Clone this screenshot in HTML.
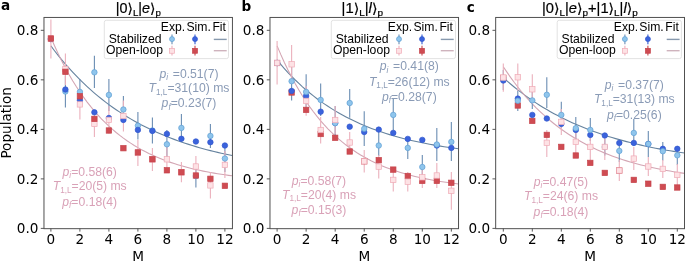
<!DOCTYPE html>
<html><head><meta charset="utf-8"><title>Population vs M</title>
<style>html,body{margin:0;padding:0;background:#fff;} body{width:685px;height:261px;overflow:hidden;} svg{display:block;}</style>
</head><body>
<svg width="685" height="261" viewBox="0 0 685 261" font-family="DejaVu Sans, Liberation Sans, sans-serif"><clipPath id="clipa"><rect x="43.97" y="17.3" width="188.47" height="211.1"/></clipPath>
<line x1="40.77" y1="228.40" x2="43.97" y2="228.40" stroke="#5a5a5a" stroke-width="1.0"/>
<text x="38.37" y="233.30" text-anchor="end" font-size="13.6" fill="#000">0.0</text>
<line x1="40.77" y1="178.88" x2="43.97" y2="178.88" stroke="#5a5a5a" stroke-width="1.0"/>
<text x="38.37" y="183.78" text-anchor="end" font-size="13.6" fill="#000">0.2</text>
<line x1="40.77" y1="129.36" x2="43.97" y2="129.36" stroke="#5a5a5a" stroke-width="1.0"/>
<text x="38.37" y="134.26" text-anchor="end" font-size="13.6" fill="#000">0.4</text>
<line x1="40.77" y1="79.84" x2="43.97" y2="79.84" stroke="#5a5a5a" stroke-width="1.0"/>
<text x="38.37" y="84.74" text-anchor="end" font-size="13.6" fill="#000">0.6</text>
<line x1="40.77" y1="30.32" x2="43.97" y2="30.32" stroke="#5a5a5a" stroke-width="1.0"/>
<text x="38.37" y="35.22" text-anchor="end" font-size="13.6" fill="#000">0.8</text>
<line x1="50.90" y1="228.40" x2="50.90" y2="231.60" stroke="#5a5a5a" stroke-width="1.0"/>
<text x="50.90" y="244.3" text-anchor="middle" font-size="13.6" fill="#000">0</text>
<line x1="79.90" y1="228.40" x2="79.90" y2="231.60" stroke="#5a5a5a" stroke-width="1.0"/>
<text x="79.90" y="244.3" text-anchor="middle" font-size="13.6" fill="#000">2</text>
<line x1="108.90" y1="228.40" x2="108.90" y2="231.60" stroke="#5a5a5a" stroke-width="1.0"/>
<text x="108.90" y="244.3" text-anchor="middle" font-size="13.6" fill="#000">4</text>
<line x1="137.90" y1="228.40" x2="137.90" y2="231.60" stroke="#5a5a5a" stroke-width="1.0"/>
<text x="137.90" y="244.3" text-anchor="middle" font-size="13.6" fill="#000">6</text>
<line x1="166.90" y1="228.40" x2="166.90" y2="231.60" stroke="#5a5a5a" stroke-width="1.0"/>
<text x="166.90" y="244.3" text-anchor="middle" font-size="13.6" fill="#000">8</text>
<line x1="195.90" y1="228.40" x2="195.90" y2="231.60" stroke="#5a5a5a" stroke-width="1.0"/>
<text x="195.90" y="244.3" text-anchor="middle" font-size="13.6" fill="#000">10</text>
<line x1="224.90" y1="228.40" x2="224.90" y2="231.60" stroke="#5a5a5a" stroke-width="1.0"/>
<text x="224.90" y="244.3" text-anchor="middle" font-size="13.6" fill="#000">12</text>
<text x="138.20" y="260.8" text-anchor="middle" font-size="13.6" fill="#000">M</text>
<text x="1.0" y="9.8" font-size="13.6" font-weight="bold" fill="#000">a</text>
<g clip-path="url(#clipa)">
<polyline points="50.90,45.92 54.52,50.72 58.15,55.34 61.77,59.78 65.40,64.06 69.03,68.19 72.65,72.16 76.28,75.98 79.90,79.66 83.53,83.20 87.15,86.61 90.78,89.90 94.40,93.06 98.03,96.11 101.65,99.04 105.28,101.86 108.90,104.58 112.53,107.20 116.15,109.72 119.78,112.14 123.40,114.48 127.03,116.73 130.65,118.89 134.28,120.98 137.90,122.99 141.53,124.92 145.15,126.78 148.78,128.57 152.40,130.30 156.03,131.96 159.65,133.56 163.28,135.10 166.90,136.58 170.53,138.01 174.15,139.38 177.78,140.71 181.40,141.98 185.03,143.21 188.65,144.39 192.28,145.53 195.90,146.62 199.53,147.68 203.15,148.69 206.78,149.67 210.40,150.61 214.03,151.52 217.65,152.39 221.28,153.23 224.90,154.04 228.53,154.82 232.15,155.57 235.78,156.29 239.40,156.98" fill="none" stroke="#66839f" stroke-width="1.1"/>
<polyline points="50.90,37.57 54.52,45.84 58.15,53.64 61.77,61.00 65.40,67.94 69.03,74.49 72.65,80.67 76.28,86.50 79.90,92.00 83.53,97.19 87.15,102.08 90.78,106.70 94.40,111.06 98.03,115.17 101.65,119.05 105.28,122.71 108.90,126.16 112.53,129.42 116.15,132.50 119.78,135.40 123.40,138.13 127.03,140.71 130.65,143.15 134.28,145.44 137.90,147.61 141.53,149.66 145.15,151.59 148.78,153.41 152.40,155.12 156.03,156.74 159.65,158.27 163.28,159.72 166.90,161.08 170.53,162.36 174.15,163.57 177.78,164.71 181.40,165.79 185.03,166.81 188.65,167.77 192.28,168.67 195.90,169.53 199.53,170.33 203.15,171.09 206.78,171.81 210.40,172.49 214.03,173.13 217.65,173.73 221.28,174.30 224.90,174.83 228.53,175.34 232.15,175.82 235.78,176.27 239.40,176.69" fill="none" stroke="#d3a5b3" stroke-width="1.1"/>
<line x1="50.90" y1="37.00" x2="50.90" y2="41.00" stroke="#6a8db3" stroke-width="1.1"/>
<line x1="65.40" y1="75.50" x2="65.40" y2="107.40" stroke="#6a8db3" stroke-width="1.1"/>
<line x1="79.90" y1="78.90" x2="79.90" y2="105.00" stroke="#6a8db3" stroke-width="1.1"/>
<line x1="94.40" y1="55.80" x2="94.40" y2="88.00" stroke="#6a8db3" stroke-width="1.1"/>
<line x1="108.90" y1="78.90" x2="108.90" y2="111.00" stroke="#6a8db3" stroke-width="1.1"/>
<line x1="123.40" y1="95.90" x2="123.40" y2="123.00" stroke="#6a8db3" stroke-width="1.1"/>
<line x1="137.90" y1="112.00" x2="137.90" y2="139.50" stroke="#6a8db3" stroke-width="1.1"/>
<line x1="152.40" y1="117.50" x2="152.40" y2="143.50" stroke="#6a8db3" stroke-width="1.1"/>
<line x1="166.90" y1="130.00" x2="166.90" y2="158.50" stroke="#6a8db3" stroke-width="1.1"/>
<line x1="181.40" y1="113.90" x2="181.40" y2="142.00" stroke="#6a8db3" stroke-width="1.1"/>
<line x1="195.90" y1="165.00" x2="195.90" y2="187.40" stroke="#6a8db3" stroke-width="1.1"/>
<line x1="210.40" y1="123.90" x2="210.40" y2="148.00" stroke="#6a8db3" stroke-width="1.1"/>
<line x1="224.90" y1="145.00" x2="224.90" y2="172.00" stroke="#6a8db3" stroke-width="1.1"/>
<line x1="50.90" y1="19.40" x2="50.90" y2="58.40" stroke="#ebb0bc" stroke-width="1.1"/>
<line x1="65.40" y1="53.50" x2="65.40" y2="85.00" stroke="#ebb0bc" stroke-width="1.1"/>
<line x1="79.90" y1="90.00" x2="79.90" y2="119.50" stroke="#ebb0bc" stroke-width="1.1"/>
<line x1="94.40" y1="110.00" x2="94.40" y2="137.00" stroke="#ebb0bc" stroke-width="1.1"/>
<line x1="108.90" y1="106.00" x2="108.90" y2="133.50" stroke="#ebb0bc" stroke-width="1.1"/>
<line x1="123.40" y1="100.50" x2="123.40" y2="131.50" stroke="#ebb0bc" stroke-width="1.1"/>
<line x1="137.90" y1="140.00" x2="137.90" y2="166.00" stroke="#ebb0bc" stroke-width="1.1"/>
<line x1="152.40" y1="148.00" x2="152.40" y2="171.00" stroke="#ebb0bc" stroke-width="1.1"/>
<line x1="166.90" y1="146.00" x2="166.90" y2="172.50" stroke="#ebb0bc" stroke-width="1.1"/>
<line x1="181.40" y1="162.00" x2="181.40" y2="182.20" stroke="#ebb0bc" stroke-width="1.1"/>
<line x1="195.90" y1="156.00" x2="195.90" y2="177.00" stroke="#ebb0bc" stroke-width="1.1"/>
<line x1="210.40" y1="172.00" x2="210.40" y2="198.50" stroke="#ebb0bc" stroke-width="1.1"/>
<line x1="224.90" y1="151.00" x2="224.90" y2="178.00" stroke="#ebb0bc" stroke-width="1.1"/>
<circle cx="50.90" cy="39.00" r="2.75" fill="#8fc5ec" stroke="#5f9fd4" stroke-width="0.7"/>
<circle cx="65.40" cy="91.50" r="2.75" fill="#8fc5ec" stroke="#5f9fd4" stroke-width="0.7"/>
<circle cx="79.90" cy="91.90" r="2.75" fill="#8fc5ec" stroke="#5f9fd4" stroke-width="0.7"/>
<circle cx="94.40" cy="72.30" r="2.75" fill="#8fc5ec" stroke="#5f9fd4" stroke-width="0.7"/>
<circle cx="108.90" cy="94.90" r="2.75" fill="#8fc5ec" stroke="#5f9fd4" stroke-width="0.7"/>
<circle cx="123.40" cy="109.50" r="2.75" fill="#8fc5ec" stroke="#5f9fd4" stroke-width="0.7"/>
<circle cx="137.90" cy="125.70" r="2.75" fill="#8fc5ec" stroke="#5f9fd4" stroke-width="0.7"/>
<circle cx="152.40" cy="130.50" r="2.75" fill="#8fc5ec" stroke="#5f9fd4" stroke-width="0.7"/>
<circle cx="166.90" cy="144.30" r="2.75" fill="#8fc5ec" stroke="#5f9fd4" stroke-width="0.7"/>
<circle cx="181.40" cy="127.90" r="2.75" fill="#8fc5ec" stroke="#5f9fd4" stroke-width="0.7"/>
<circle cx="195.90" cy="176.00" r="2.75" fill="#8fc5ec" stroke="#5f9fd4" stroke-width="0.7"/>
<circle cx="210.40" cy="135.90" r="2.75" fill="#8fc5ec" stroke="#5f9fd4" stroke-width="0.7"/>
<circle cx="224.90" cy="158.50" r="2.75" fill="#8fc5ec" stroke="#5f9fd4" stroke-width="0.7"/>
<circle cx="50.90" cy="39.00" r="2.75" fill="#3b63dc" stroke="#3158cf" stroke-width="0.7"/>
<circle cx="65.40" cy="89.50" r="2.75" fill="#3b63dc" stroke="#3158cf" stroke-width="0.7"/>
<circle cx="79.90" cy="100.30" r="2.75" fill="#3b63dc" stroke="#3158cf" stroke-width="0.7"/>
<circle cx="94.40" cy="112.30" r="2.75" fill="#3b63dc" stroke="#3158cf" stroke-width="0.7"/>
<circle cx="108.90" cy="118.00" r="2.75" fill="#3b63dc" stroke="#3158cf" stroke-width="0.7"/>
<circle cx="123.40" cy="119.90" r="2.75" fill="#3b63dc" stroke="#3158cf" stroke-width="0.7"/>
<circle cx="137.90" cy="129.90" r="2.75" fill="#3b63dc" stroke="#3158cf" stroke-width="0.7"/>
<circle cx="152.40" cy="130.90" r="2.75" fill="#3b63dc" stroke="#3158cf" stroke-width="0.7"/>
<circle cx="166.90" cy="133.90" r="2.75" fill="#3b63dc" stroke="#3158cf" stroke-width="0.7"/>
<circle cx="181.40" cy="138.80" r="2.75" fill="#3b63dc" stroke="#3158cf" stroke-width="0.7"/>
<circle cx="195.90" cy="141.50" r="2.75" fill="#3b63dc" stroke="#3158cf" stroke-width="0.7"/>
<circle cx="210.40" cy="142.20" r="2.75" fill="#3b63dc" stroke="#3158cf" stroke-width="0.7"/>
<circle cx="224.90" cy="145.50" r="2.75" fill="#3b63dc" stroke="#3158cf" stroke-width="0.7"/>
<rect x="48.20" y="35.80" width="5.4" height="5.4" fill="#fde2e5" stroke="#efaab6" stroke-width="0.7"/>
<rect x="62.70" y="66.30" width="5.4" height="5.4" fill="#fde2e5" stroke="#efaab6" stroke-width="0.7"/>
<rect x="77.20" y="101.70" width="5.4" height="5.4" fill="#fde2e5" stroke="#efaab6" stroke-width="0.7"/>
<rect x="91.70" y="121.20" width="5.4" height="5.4" fill="#fde2e5" stroke="#efaab6" stroke-width="0.7"/>
<rect x="106.20" y="117.20" width="5.4" height="5.4" fill="#fde2e5" stroke="#efaab6" stroke-width="0.7"/>
<rect x="120.70" y="113.30" width="5.4" height="5.4" fill="#fde2e5" stroke="#efaab6" stroke-width="0.7"/>
<rect x="135.20" y="150.30" width="5.4" height="5.4" fill="#fde2e5" stroke="#efaab6" stroke-width="0.7"/>
<rect x="149.70" y="156.60" width="5.4" height="5.4" fill="#fde2e5" stroke="#efaab6" stroke-width="0.7"/>
<rect x="164.20" y="156.60" width="5.4" height="5.4" fill="#fde2e5" stroke="#efaab6" stroke-width="0.7"/>
<rect x="178.70" y="169.50" width="5.4" height="5.4" fill="#fde2e5" stroke="#efaab6" stroke-width="0.7"/>
<rect x="193.20" y="163.80" width="5.4" height="5.4" fill="#fde2e5" stroke="#efaab6" stroke-width="0.7"/>
<rect x="207.70" y="182.70" width="5.4" height="5.4" fill="#fde2e5" stroke="#efaab6" stroke-width="0.7"/>
<rect x="222.20" y="162.20" width="5.4" height="5.4" fill="#fde2e5" stroke="#efaab6" stroke-width="0.7"/>
<rect x="48.20" y="35.80" width="5.4" height="5.4" fill="#cf4b52" stroke="#c5444b" stroke-width="0.7"/>
<rect x="62.70" y="69.10" width="5.4" height="5.4" fill="#cf4b52" stroke="#c5444b" stroke-width="0.7"/>
<rect x="77.20" y="93.60" width="5.4" height="5.4" fill="#cf4b52" stroke="#c5444b" stroke-width="0.7"/>
<rect x="91.70" y="116.20" width="5.4" height="5.4" fill="#cf4b52" stroke="#c5444b" stroke-width="0.7"/>
<rect x="106.20" y="127.80" width="5.4" height="5.4" fill="#cf4b52" stroke="#c5444b" stroke-width="0.7"/>
<rect x="120.70" y="145.50" width="5.4" height="5.4" fill="#cf4b52" stroke="#c5444b" stroke-width="0.7"/>
<rect x="135.20" y="149.70" width="5.4" height="5.4" fill="#cf4b52" stroke="#c5444b" stroke-width="0.7"/>
<rect x="149.70" y="156.60" width="5.4" height="5.4" fill="#cf4b52" stroke="#c5444b" stroke-width="0.7"/>
<rect x="164.20" y="167.60" width="5.4" height="5.4" fill="#cf4b52" stroke="#c5444b" stroke-width="0.7"/>
<rect x="178.70" y="169.60" width="5.4" height="5.4" fill="#cf4b52" stroke="#c5444b" stroke-width="0.7"/>
<rect x="193.20" y="172.80" width="5.4" height="5.4" fill="#cf4b52" stroke="#c5444b" stroke-width="0.7"/>
<rect x="207.70" y="176.10" width="5.4" height="5.4" fill="#cf4b52" stroke="#c5444b" stroke-width="0.7"/>
<rect x="222.20" y="183.10" width="5.4" height="5.4" fill="#cf4b52" stroke="#c5444b" stroke-width="0.7"/>
</g>
<rect x="43.97" y="17.45" width="188.47" height="211.22" fill="none" stroke="#505050" stroke-width="1.0"/>
<rect x="104.30" y="20.3" width="124.2" height="38.3" rx="2" fill="#fff" fill-opacity="0.8" stroke="#dadada" stroke-width="0.8"/>
<text x="173.05" y="31.1" text-anchor="middle" font-size="12.2" font-family="Liberation Sans" fill="#000">Exp.</text>
<text x="198.65" y="31.1" text-anchor="middle" font-size="12.2" font-family="Liberation Sans" fill="#000">Sim.</text>
<text x="219.15" y="31.1" text-anchor="middle" font-size="12.2" font-family="Liberation Sans" fill="#000">Fit</text>
<text x="135.10" y="42.7" text-anchor="middle" font-size="12.2" font-family="Liberation Sans" fill="#000">Stabilized</text>
<text x="134.50" y="54.4" text-anchor="middle" font-size="12.2" font-family="Liberation Sans" fill="#000">Open-loop</text>
<line x1="172.00" y1="34.40" x2="172.00" y2="44.30" stroke="#6a8db3" stroke-width="1.1"/>
<circle cx="172.00" cy="39.10" r="2.5" fill="#8fc5ec" stroke="#5f9fd4" stroke-width="0.7"/>
<line x1="195.00" y1="34.40" x2="195.00" y2="44.30" stroke="#3158cf" stroke-width="1.1"/>
<circle cx="195.00" cy="39.10" r="2.5" fill="#3b63dc" stroke="#3158cf" stroke-width="0.7"/>
<line x1="213.80" y1="39.4" x2="226.70" y2="39.4" stroke="#8799ae" stroke-width="1.4"/>
<line x1="172.00" y1="45.80" x2="172.00" y2="55.60" stroke="#ebb0bc" stroke-width="1.1"/>
<rect x="169.55" y="48.35" width="4.9" height="4.9" fill="#fde2e5" stroke="#efaab6" stroke-width="0.7"/>
<line x1="195.00" y1="45.80" x2="195.00" y2="55.60" stroke="#c5444b" stroke-width="1.1"/>
<rect x="192.55" y="48.35" width="4.9" height="4.9" fill="#cf4b52" stroke="#c5444b" stroke-width="0.7"/>
<line x1="213.80" y1="50.7" x2="226.70" y2="50.7" stroke="#cfb3bd" stroke-width="1.4"/>
<text x="189.00" y="77.50" text-anchor="middle" fill="#8a9bb6" font-size="12.2" font-family="Liberation Sans"><tspan font-style="italic">p</tspan><tspan font-style="italic" font-size="8.2" dy="2.3">i</tspan><tspan dy="-2.3" dx="1.3"> =0.51(7)</tspan></text>
<text x="89.70" y="175.60" text-anchor="middle" fill="#d9a1b7" font-size="12.2" font-family="Liberation Sans"><tspan font-style="italic">p</tspan><tspan font-style="italic" font-size="8.2" dy="2.3">i</tspan><tspan dy="-2.3">=0.58(6)</tspan></text>
<text x="189.00" y="92.20" text-anchor="middle" fill="#8a9bb6" font-size="12.2" font-family="Liberation Sans"><tspan font-style="italic">T</tspan><tspan font-size="8.2" dy="2.3">1,L</tspan><tspan dy="-2.3">=31(10) ms</tspan></text>
<text x="89.70" y="190.30" text-anchor="middle" fill="#d9a1b7" font-size="12.2" font-family="Liberation Sans"><tspan font-style="italic">T</tspan><tspan font-size="8.2" dy="2.3">1,L</tspan><tspan dy="-2.3">=20(5) ms</tspan></text>
<text x="189.00" y="107.40" text-anchor="middle" fill="#8a9bb6" font-size="12.2" font-family="Liberation Sans"><tspan font-style="italic">p</tspan><tspan font-style="italic" font-size="8.2" dy="2.3">f</tspan><tspan dy="-2.3">=0.23(7)</tspan></text>
<text x="89.70" y="205.50" text-anchor="middle" fill="#d9a1b7" font-size="12.2" font-family="Liberation Sans"><tspan font-style="italic">p</tspan><tspan font-style="italic" font-size="8.2" dy="2.3">f</tspan><tspan dy="-2.3">=0.18(4)</tspan></text>
<clipPath id="clipb"><rect x="269.98" y="17.3" width="188.54999999999995" height="211.1"/></clipPath>
<line x1="266.78" y1="228.40" x2="269.98" y2="228.40" stroke="#5a5a5a" stroke-width="1.0"/>
<text x="264.38" y="233.30" text-anchor="end" font-size="13.6" fill="#000">0.0</text>
<line x1="266.78" y1="178.88" x2="269.98" y2="178.88" stroke="#5a5a5a" stroke-width="1.0"/>
<text x="264.38" y="183.78" text-anchor="end" font-size="13.6" fill="#000">0.2</text>
<line x1="266.78" y1="129.36" x2="269.98" y2="129.36" stroke="#5a5a5a" stroke-width="1.0"/>
<text x="264.38" y="134.26" text-anchor="end" font-size="13.6" fill="#000">0.4</text>
<line x1="266.78" y1="79.84" x2="269.98" y2="79.84" stroke="#5a5a5a" stroke-width="1.0"/>
<text x="264.38" y="84.74" text-anchor="end" font-size="13.6" fill="#000">0.6</text>
<line x1="266.78" y1="30.32" x2="269.98" y2="30.32" stroke="#5a5a5a" stroke-width="1.0"/>
<text x="264.38" y="35.22" text-anchor="end" font-size="13.6" fill="#000">0.8</text>
<line x1="277.10" y1="228.40" x2="277.10" y2="231.60" stroke="#5a5a5a" stroke-width="1.0"/>
<text x="277.10" y="244.3" text-anchor="middle" font-size="13.6" fill="#000">0</text>
<line x1="306.14" y1="228.40" x2="306.14" y2="231.60" stroke="#5a5a5a" stroke-width="1.0"/>
<text x="306.14" y="244.3" text-anchor="middle" font-size="13.6" fill="#000">2</text>
<line x1="335.18" y1="228.40" x2="335.18" y2="231.60" stroke="#5a5a5a" stroke-width="1.0"/>
<text x="335.18" y="244.3" text-anchor="middle" font-size="13.6" fill="#000">4</text>
<line x1="364.22" y1="228.40" x2="364.22" y2="231.60" stroke="#5a5a5a" stroke-width="1.0"/>
<text x="364.22" y="244.3" text-anchor="middle" font-size="13.6" fill="#000">6</text>
<line x1="393.26" y1="228.40" x2="393.26" y2="231.60" stroke="#5a5a5a" stroke-width="1.0"/>
<text x="393.26" y="244.3" text-anchor="middle" font-size="13.6" fill="#000">8</text>
<line x1="422.30" y1="228.40" x2="422.30" y2="231.60" stroke="#5a5a5a" stroke-width="1.0"/>
<text x="422.30" y="244.3" text-anchor="middle" font-size="13.6" fill="#000">10</text>
<line x1="451.34" y1="228.40" x2="451.34" y2="231.60" stroke="#5a5a5a" stroke-width="1.0"/>
<text x="451.34" y="244.3" text-anchor="middle" font-size="13.6" fill="#000">12</text>
<text x="364.25" y="260.8" text-anchor="middle" font-size="13.6" fill="#000">M</text>
<text x="241.6" y="10.9" font-size="13.6" font-weight="bold" fill="#000">b</text>
<g clip-path="url(#clipb)">
<polyline points="277.10,60.06 280.73,64.41 284.36,68.57 287.99,72.55 291.62,76.35 295.25,79.99 298.88,83.47 302.51,86.80 306.14,89.98 309.77,93.02 313.40,95.92 317.03,98.70 320.66,101.36 324.29,103.90 327.92,106.33 331.55,108.66 335.18,110.88 338.81,113.00 342.44,115.04 346.07,116.98 349.70,118.84 353.33,120.61 356.96,122.31 360.59,123.93 364.22,125.48 367.85,126.97 371.48,128.39 375.11,129.75 378.74,131.04 382.37,132.28 386.00,133.47 389.63,134.60 393.26,135.69 396.89,136.73 400.52,137.72 404.15,138.66 407.78,139.57 411.41,140.44 415.04,141.27 418.67,142.06 422.30,142.82 425.93,143.54 429.56,144.23 433.19,144.90 436.82,145.53 440.45,146.14 444.08,146.71 447.71,147.27 451.34,147.80 454.97,148.30 458.60,148.79 462.23,149.25 465.86,149.69" fill="none" stroke="#66839f" stroke-width="1.1"/>
<polyline points="277.10,45.87 280.73,54.40 284.36,62.42 287.99,69.97 291.62,77.08 295.25,83.78 298.88,90.08 302.51,96.00 306.14,101.59 309.77,106.84 313.40,111.78 317.03,116.44 320.66,120.82 324.29,124.94 327.92,128.82 331.55,132.47 335.18,135.91 338.81,139.15 342.44,142.19 346.07,145.06 349.70,147.76 353.33,150.30 356.96,152.69 360.59,154.94 364.22,157.06 367.85,159.05 371.48,160.93 375.11,162.69 378.74,164.35 382.37,165.92 386.00,167.39 389.63,168.78 393.26,170.08 396.89,171.31 400.52,172.47 404.15,173.56 407.78,174.58 411.41,175.54 415.04,176.45 418.67,177.31 422.30,178.11 425.93,178.87 429.56,179.58 433.19,180.25 436.82,180.88 440.45,181.47 444.08,182.03 447.71,182.56 451.34,183.05 454.97,183.52 458.60,183.96 462.23,184.37 465.86,184.76" fill="none" stroke="#d3a5b3" stroke-width="1.1"/>
<line x1="277.10" y1="62.00" x2="277.10" y2="64.00" stroke="#6a8db3" stroke-width="1.1"/>
<line x1="291.62" y1="62.00" x2="291.62" y2="100.50" stroke="#6a8db3" stroke-width="1.1"/>
<line x1="306.14" y1="74.20" x2="306.14" y2="109.60" stroke="#6a8db3" stroke-width="1.1"/>
<line x1="320.66" y1="83.60" x2="320.66" y2="116.00" stroke="#6a8db3" stroke-width="1.1"/>
<line x1="335.18" y1="106.00" x2="335.18" y2="140.00" stroke="#6a8db3" stroke-width="1.1"/>
<line x1="349.70" y1="89.00" x2="349.70" y2="117.80" stroke="#6a8db3" stroke-width="1.1"/>
<line x1="364.22" y1="111.30" x2="364.22" y2="146.00" stroke="#6a8db3" stroke-width="1.1"/>
<line x1="378.74" y1="131.00" x2="378.74" y2="156.00" stroke="#6a8db3" stroke-width="1.1"/>
<line x1="393.26" y1="99.00" x2="393.26" y2="130.80" stroke="#6a8db3" stroke-width="1.1"/>
<line x1="407.78" y1="137.00" x2="407.78" y2="158.90" stroke="#6a8db3" stroke-width="1.1"/>
<line x1="422.30" y1="154.90" x2="422.30" y2="179.00" stroke="#6a8db3" stroke-width="1.1"/>
<line x1="436.82" y1="128.00" x2="436.82" y2="160.90" stroke="#6a8db3" stroke-width="1.1"/>
<line x1="451.34" y1="121.90" x2="451.34" y2="161.00" stroke="#6a8db3" stroke-width="1.1"/>
<line x1="277.10" y1="41.00" x2="277.10" y2="84.60" stroke="#ebb0bc" stroke-width="1.1"/>
<line x1="291.62" y1="45.00" x2="291.62" y2="84.00" stroke="#ebb0bc" stroke-width="1.1"/>
<line x1="306.14" y1="86.00" x2="306.14" y2="115.80" stroke="#ebb0bc" stroke-width="1.1"/>
<line x1="320.66" y1="117.00" x2="320.66" y2="143.50" stroke="#ebb0bc" stroke-width="1.1"/>
<line x1="335.18" y1="106.00" x2="335.18" y2="134.00" stroke="#ebb0bc" stroke-width="1.1"/>
<line x1="349.70" y1="132.00" x2="349.70" y2="153.00" stroke="#ebb0bc" stroke-width="1.1"/>
<line x1="364.22" y1="150.00" x2="364.22" y2="172.50" stroke="#ebb0bc" stroke-width="1.1"/>
<line x1="378.74" y1="155.00" x2="378.74" y2="178.40" stroke="#ebb0bc" stroke-width="1.1"/>
<line x1="393.26" y1="168.00" x2="393.26" y2="191.50" stroke="#ebb0bc" stroke-width="1.1"/>
<line x1="407.78" y1="172.00" x2="407.78" y2="191.50" stroke="#ebb0bc" stroke-width="1.1"/>
<line x1="422.30" y1="167.00" x2="422.30" y2="187.90" stroke="#ebb0bc" stroke-width="1.1"/>
<line x1="436.82" y1="163.00" x2="436.82" y2="187.90" stroke="#ebb0bc" stroke-width="1.1"/>
<line x1="451.34" y1="172.00" x2="451.34" y2="209.80" stroke="#ebb0bc" stroke-width="1.1"/>
<rect x="274.40" y="60.30" width="5.4" height="5.4" fill="#cf4b52" stroke="#c5444b" stroke-width="0.7"/>
<rect x="288.92" y="89.80" width="5.4" height="5.4" fill="#cf4b52" stroke="#c5444b" stroke-width="0.7"/>
<rect x="303.44" y="107.20" width="5.4" height="5.4" fill="#cf4b52" stroke="#c5444b" stroke-width="0.7"/>
<rect x="317.96" y="131.30" width="5.4" height="5.4" fill="#cf4b52" stroke="#c5444b" stroke-width="0.7"/>
<rect x="332.48" y="135.10" width="5.4" height="5.4" fill="#cf4b52" stroke="#c5444b" stroke-width="0.7"/>
<rect x="347.00" y="148.80" width="5.4" height="5.4" fill="#cf4b52" stroke="#c5444b" stroke-width="0.7"/>
<rect x="361.52" y="158.60" width="5.4" height="5.4" fill="#cf4b52" stroke="#c5444b" stroke-width="0.7"/>
<rect x="376.04" y="157.50" width="5.4" height="5.4" fill="#cf4b52" stroke="#c5444b" stroke-width="0.7"/>
<rect x="390.56" y="166.90" width="5.4" height="5.4" fill="#cf4b52" stroke="#c5444b" stroke-width="0.7"/>
<rect x="405.08" y="173.30" width="5.4" height="5.4" fill="#cf4b52" stroke="#c5444b" stroke-width="0.7"/>
<rect x="419.60" y="178.20" width="5.4" height="5.4" fill="#cf4b52" stroke="#c5444b" stroke-width="0.7"/>
<rect x="434.12" y="178.20" width="5.4" height="5.4" fill="#cf4b52" stroke="#c5444b" stroke-width="0.7"/>
<rect x="448.64" y="180.10" width="5.4" height="5.4" fill="#cf4b52" stroke="#c5444b" stroke-width="0.7"/>
<circle cx="277.10" cy="63.00" r="2.75" fill="#3b63dc" stroke="#3158cf" stroke-width="0.7"/>
<circle cx="291.62" cy="90.90" r="2.75" fill="#3b63dc" stroke="#3158cf" stroke-width="0.7"/>
<circle cx="306.14" cy="96.00" r="2.75" fill="#3b63dc" stroke="#3158cf" stroke-width="0.7"/>
<circle cx="320.66" cy="111.70" r="2.75" fill="#3b63dc" stroke="#3158cf" stroke-width="0.7"/>
<circle cx="335.18" cy="123.00" r="2.75" fill="#3b63dc" stroke="#3158cf" stroke-width="0.7"/>
<circle cx="349.70" cy="126.70" r="2.75" fill="#3b63dc" stroke="#3158cf" stroke-width="0.7"/>
<circle cx="364.22" cy="132.00" r="2.75" fill="#3b63dc" stroke="#3158cf" stroke-width="0.7"/>
<circle cx="378.74" cy="129.60" r="2.75" fill="#3b63dc" stroke="#3158cf" stroke-width="0.7"/>
<circle cx="393.26" cy="132.90" r="2.75" fill="#3b63dc" stroke="#3158cf" stroke-width="0.7"/>
<circle cx="407.78" cy="138.90" r="2.75" fill="#3b63dc" stroke="#3158cf" stroke-width="0.7"/>
<circle cx="422.30" cy="139.90" r="2.75" fill="#3b63dc" stroke="#3158cf" stroke-width="0.7"/>
<circle cx="436.82" cy="145.50" r="2.75" fill="#3b63dc" stroke="#3158cf" stroke-width="0.7"/>
<circle cx="451.34" cy="147.90" r="2.75" fill="#3b63dc" stroke="#3158cf" stroke-width="0.7"/>
<circle cx="277.10" cy="63.00" r="2.75" fill="#8fc5ec" stroke="#5f9fd4" stroke-width="0.7"/>
<circle cx="291.62" cy="81.20" r="2.75" fill="#8fc5ec" stroke="#5f9fd4" stroke-width="0.7"/>
<circle cx="306.14" cy="91.90" r="2.75" fill="#8fc5ec" stroke="#5f9fd4" stroke-width="0.7"/>
<circle cx="320.66" cy="99.90" r="2.75" fill="#8fc5ec" stroke="#5f9fd4" stroke-width="0.7"/>
<circle cx="335.18" cy="123.20" r="2.75" fill="#8fc5ec" stroke="#5f9fd4" stroke-width="0.7"/>
<circle cx="349.70" cy="103.00" r="2.75" fill="#8fc5ec" stroke="#5f9fd4" stroke-width="0.7"/>
<circle cx="364.22" cy="128.80" r="2.75" fill="#8fc5ec" stroke="#5f9fd4" stroke-width="0.7"/>
<circle cx="378.74" cy="145.50" r="2.75" fill="#8fc5ec" stroke="#5f9fd4" stroke-width="0.7"/>
<circle cx="393.26" cy="114.90" r="2.75" fill="#8fc5ec" stroke="#5f9fd4" stroke-width="0.7"/>
<circle cx="407.78" cy="147.90" r="2.75" fill="#8fc5ec" stroke="#5f9fd4" stroke-width="0.7"/>
<circle cx="422.30" cy="167.00" r="2.75" fill="#8fc5ec" stroke="#5f9fd4" stroke-width="0.7"/>
<circle cx="436.82" cy="144.50" r="2.75" fill="#8fc5ec" stroke="#5f9fd4" stroke-width="0.7"/>
<circle cx="451.34" cy="141.90" r="2.75" fill="#8fc5ec" stroke="#5f9fd4" stroke-width="0.7"/>
<rect x="274.40" y="60.20" width="5.4" height="5.4" fill="#fde2e5" stroke="#efaab6" stroke-width="0.7"/>
<rect x="288.92" y="61.60" width="5.4" height="5.4" fill="#fde2e5" stroke="#efaab6" stroke-width="0.7"/>
<rect x="303.44" y="98.20" width="5.4" height="5.4" fill="#fde2e5" stroke="#efaab6" stroke-width="0.7"/>
<rect x="317.96" y="127.30" width="5.4" height="5.4" fill="#fde2e5" stroke="#efaab6" stroke-width="0.7"/>
<rect x="332.48" y="117.30" width="5.4" height="5.4" fill="#fde2e5" stroke="#efaab6" stroke-width="0.7"/>
<rect x="347.00" y="139.80" width="5.4" height="5.4" fill="#fde2e5" stroke="#efaab6" stroke-width="0.7"/>
<rect x="361.52" y="158.60" width="5.4" height="5.4" fill="#fde2e5" stroke="#efaab6" stroke-width="0.7"/>
<rect x="376.04" y="163.90" width="5.4" height="5.4" fill="#fde2e5" stroke="#efaab6" stroke-width="0.7"/>
<rect x="390.56" y="177.20" width="5.4" height="5.4" fill="#fde2e5" stroke="#efaab6" stroke-width="0.7"/>
<rect x="405.08" y="179.00" width="5.4" height="5.4" fill="#fde2e5" stroke="#efaab6" stroke-width="0.7"/>
<rect x="419.60" y="174.60" width="5.4" height="5.4" fill="#fde2e5" stroke="#efaab6" stroke-width="0.7"/>
<rect x="434.12" y="172.80" width="5.4" height="5.4" fill="#fde2e5" stroke="#efaab6" stroke-width="0.7"/>
<rect x="448.64" y="188.10" width="5.4" height="5.4" fill="#fde2e5" stroke="#efaab6" stroke-width="0.7"/>
</g>
<rect x="269.98" y="17.45" width="188.55" height="211.22" fill="none" stroke="#505050" stroke-width="1.0"/>
<rect x="331.30" y="20.3" width="124.2" height="38.3" rx="2" fill="#fff" fill-opacity="0.8" stroke="#dadada" stroke-width="0.8"/>
<text x="400.05" y="31.1" text-anchor="middle" font-size="12.2" font-family="Liberation Sans" fill="#000">Exp.</text>
<text x="425.65" y="31.1" text-anchor="middle" font-size="12.2" font-family="Liberation Sans" fill="#000">Sim.</text>
<text x="446.15" y="31.1" text-anchor="middle" font-size="12.2" font-family="Liberation Sans" fill="#000">Fit</text>
<text x="362.10" y="42.7" text-anchor="middle" font-size="12.2" font-family="Liberation Sans" fill="#000">Stabilized</text>
<text x="361.50" y="54.4" text-anchor="middle" font-size="12.2" font-family="Liberation Sans" fill="#000">Open-loop</text>
<line x1="399.00" y1="34.40" x2="399.00" y2="44.30" stroke="#6a8db3" stroke-width="1.1"/>
<circle cx="399.00" cy="39.10" r="2.5" fill="#8fc5ec" stroke="#5f9fd4" stroke-width="0.7"/>
<line x1="422.00" y1="34.40" x2="422.00" y2="44.30" stroke="#3158cf" stroke-width="1.1"/>
<circle cx="422.00" cy="39.10" r="2.5" fill="#3b63dc" stroke="#3158cf" stroke-width="0.7"/>
<line x1="440.80" y1="39.4" x2="453.70" y2="39.4" stroke="#8799ae" stroke-width="1.4"/>
<line x1="399.00" y1="45.80" x2="399.00" y2="55.60" stroke="#ebb0bc" stroke-width="1.1"/>
<rect x="396.55" y="48.35" width="4.9" height="4.9" fill="#fde2e5" stroke="#efaab6" stroke-width="0.7"/>
<line x1="422.00" y1="45.80" x2="422.00" y2="55.60" stroke="#c5444b" stroke-width="1.1"/>
<rect x="419.55" y="48.35" width="4.9" height="4.9" fill="#cf4b52" stroke="#c5444b" stroke-width="0.7"/>
<line x1="440.80" y1="50.7" x2="453.70" y2="50.7" stroke="#cfb3bd" stroke-width="1.4"/>
<text x="409.30" y="70.20" text-anchor="middle" fill="#8a9bb6" font-size="12.2" font-family="Liberation Sans"><tspan font-style="italic">p</tspan><tspan font-style="italic" font-size="8.2" dy="2.3">i</tspan><tspan dy="-2.3" dx="1.3"> =0.41(8)</tspan></text>
<text x="319.00" y="184.80" text-anchor="middle" fill="#d9a1b7" font-size="12.2" font-family="Liberation Sans"><tspan font-style="italic">p</tspan><tspan font-style="italic" font-size="8.2" dy="2.3">i</tspan><tspan dy="-2.3">=0.58(7)</tspan></text>
<text x="409.30" y="85.60" text-anchor="middle" fill="#8a9bb6" font-size="12.2" font-family="Liberation Sans"><tspan font-style="italic">T</tspan><tspan font-size="8.2" dy="2.3">1,L</tspan><tspan dy="-2.3">=26(12) ms</tspan></text>
<text x="319.00" y="199.10" text-anchor="middle" fill="#d9a1b7" font-size="12.2" font-family="Liberation Sans"><tspan font-style="italic">T</tspan><tspan font-size="8.2" dy="2.3">1,L</tspan><tspan dy="-2.3">=20(4) ms</tspan></text>
<text x="409.30" y="101.00" text-anchor="middle" fill="#8a9bb6" font-size="12.2" font-family="Liberation Sans"><tspan font-style="italic">p</tspan><tspan font-style="italic" font-size="8.2" dy="2.3">f</tspan><tspan dy="-2.3">=0.28(7)</tspan></text>
<text x="319.00" y="214.00" text-anchor="middle" fill="#d9a1b7" font-size="12.2" font-family="Liberation Sans"><tspan font-style="italic">p</tspan><tspan font-style="italic" font-size="8.2" dy="2.3">f</tspan><tspan dy="-2.3">=0.15(3)</tspan></text>
<clipPath id="clipc"><rect x="495.67" y="17.3" width="188.82999999999998" height="211.1"/></clipPath>
<line x1="492.47" y1="228.40" x2="495.67" y2="228.40" stroke="#5a5a5a" stroke-width="1.0"/>
<text x="490.07" y="233.30" text-anchor="end" font-size="13.6" fill="#000">0.0</text>
<line x1="492.47" y1="178.88" x2="495.67" y2="178.88" stroke="#5a5a5a" stroke-width="1.0"/>
<text x="490.07" y="183.78" text-anchor="end" font-size="13.6" fill="#000">0.2</text>
<line x1="492.47" y1="129.36" x2="495.67" y2="129.36" stroke="#5a5a5a" stroke-width="1.0"/>
<text x="490.07" y="134.26" text-anchor="end" font-size="13.6" fill="#000">0.4</text>
<line x1="492.47" y1="79.84" x2="495.67" y2="79.84" stroke="#5a5a5a" stroke-width="1.0"/>
<text x="490.07" y="84.74" text-anchor="end" font-size="13.6" fill="#000">0.6</text>
<line x1="492.47" y1="30.32" x2="495.67" y2="30.32" stroke="#5a5a5a" stroke-width="1.0"/>
<text x="490.07" y="35.22" text-anchor="end" font-size="13.6" fill="#000">0.8</text>
<line x1="503.30" y1="228.40" x2="503.30" y2="231.60" stroke="#5a5a5a" stroke-width="1.0"/>
<text x="503.30" y="244.3" text-anchor="middle" font-size="13.6" fill="#000">0</text>
<line x1="532.30" y1="228.40" x2="532.30" y2="231.60" stroke="#5a5a5a" stroke-width="1.0"/>
<text x="532.30" y="244.3" text-anchor="middle" font-size="13.6" fill="#000">2</text>
<line x1="561.30" y1="228.40" x2="561.30" y2="231.60" stroke="#5a5a5a" stroke-width="1.0"/>
<text x="561.30" y="244.3" text-anchor="middle" font-size="13.6" fill="#000">4</text>
<line x1="590.30" y1="228.40" x2="590.30" y2="231.60" stroke="#5a5a5a" stroke-width="1.0"/>
<text x="590.30" y="244.3" text-anchor="middle" font-size="13.6" fill="#000">6</text>
<line x1="619.30" y1="228.40" x2="619.30" y2="231.60" stroke="#5a5a5a" stroke-width="1.0"/>
<text x="619.30" y="244.3" text-anchor="middle" font-size="13.6" fill="#000">8</text>
<line x1="648.30" y1="228.40" x2="648.30" y2="231.60" stroke="#5a5a5a" stroke-width="1.0"/>
<text x="648.30" y="244.3" text-anchor="middle" font-size="13.6" fill="#000">10</text>
<line x1="677.30" y1="228.40" x2="677.30" y2="231.60" stroke="#5a5a5a" stroke-width="1.0"/>
<text x="677.30" y="244.3" text-anchor="middle" font-size="13.6" fill="#000">12</text>
<text x="590.09" y="260.8" text-anchor="middle" font-size="13.6" fill="#000">M</text>
<text x="466.7" y="12.0" font-size="13.6" font-weight="bold" fill="#000">c</text>
<g clip-path="url(#clipc)">
<polyline points="503.30,77.66 506.93,80.89 510.55,84.00 514.17,87.00 517.80,89.89 521.42,92.68 525.05,95.37 528.67,97.96 532.30,100.46 535.92,102.87 539.55,105.19 543.17,107.43 546.80,109.59 550.42,111.67 554.05,113.68 557.67,115.61 561.30,117.48 564.92,119.27 568.55,121.01 572.17,122.68 575.80,124.29 579.42,125.84 583.05,127.34 586.67,128.78 590.30,130.17 593.92,131.51 597.55,132.81 601.17,134.05 604.80,135.25 608.42,136.41 612.05,137.53 615.67,138.61 619.30,139.64 622.92,140.64 626.55,141.61 630.17,142.54 633.80,143.44 637.42,144.30 641.05,145.13 644.67,145.94 648.30,146.71 651.92,147.46 655.55,148.18 659.17,148.87 662.80,149.54 666.42,150.19 670.05,150.81 673.67,151.41 677.30,151.99 680.92,152.54 684.55,153.08 688.17,153.60 691.80,154.10" fill="none" stroke="#66839f" stroke-width="1.1"/>
<polyline points="503.30,66.69 506.93,72.13 510.55,77.32 514.17,82.27 517.80,86.99 521.42,91.49 525.05,95.79 528.67,99.88 532.30,103.79 535.92,107.52 539.55,111.07 543.17,114.46 546.80,117.70 550.42,120.78 554.05,123.72 557.67,126.53 561.30,129.20 564.92,131.76 568.55,134.19 572.17,136.51 575.80,138.73 579.42,140.84 583.05,142.85 586.67,144.78 590.30,146.61 593.92,148.36 597.55,150.02 601.17,151.61 604.80,153.13 608.42,154.58 612.05,155.96 615.67,157.27 619.30,158.53 622.92,159.73 626.55,160.87 630.17,161.96 633.80,163.00 637.42,163.99 641.05,164.93 644.67,165.84 648.30,166.70 651.92,167.52 655.55,168.30 659.17,169.05 662.80,169.76 666.42,170.44 670.05,171.08 673.67,171.70 677.30,172.29 680.92,172.85 684.55,173.39 688.17,173.90 691.80,174.39" fill="none" stroke="#d3a5b3" stroke-width="1.1"/>
<line x1="503.30" y1="70.00" x2="503.30" y2="90.00" stroke="#6a8db3" stroke-width="1.1"/>
<line x1="517.80" y1="90.00" x2="517.80" y2="111.00" stroke="#6a8db3" stroke-width="1.1"/>
<line x1="532.30" y1="91.00" x2="532.30" y2="109.00" stroke="#6a8db3" stroke-width="1.1"/>
<line x1="546.80" y1="77.30" x2="546.80" y2="108.00" stroke="#6a8db3" stroke-width="1.1"/>
<line x1="561.30" y1="101.80" x2="561.30" y2="128.00" stroke="#6a8db3" stroke-width="1.1"/>
<line x1="575.80" y1="116.90" x2="575.80" y2="140.00" stroke="#6a8db3" stroke-width="1.1"/>
<line x1="590.30" y1="118.00" x2="590.30" y2="141.00" stroke="#6a8db3" stroke-width="1.1"/>
<line x1="604.80" y1="139.00" x2="604.80" y2="155.50" stroke="#6a8db3" stroke-width="1.1"/>
<line x1="619.30" y1="140.00" x2="619.30" y2="162.00" stroke="#6a8db3" stroke-width="1.1"/>
<line x1="633.80" y1="119.00" x2="633.80" y2="146.00" stroke="#6a8db3" stroke-width="1.1"/>
<line x1="648.30" y1="130.90" x2="648.30" y2="157.00" stroke="#6a8db3" stroke-width="1.1"/>
<line x1="662.80" y1="141.90" x2="662.80" y2="160.50" stroke="#6a8db3" stroke-width="1.1"/>
<line x1="677.30" y1="145.90" x2="677.30" y2="165.00" stroke="#6a8db3" stroke-width="1.1"/>
<line x1="503.30" y1="63.40" x2="503.30" y2="91.80" stroke="#ebb0bc" stroke-width="1.1"/>
<line x1="517.80" y1="63.40" x2="517.80" y2="91.00" stroke="#ebb0bc" stroke-width="1.1"/>
<line x1="532.30" y1="74.30" x2="532.30" y2="104.00" stroke="#ebb0bc" stroke-width="1.1"/>
<line x1="546.80" y1="129.90" x2="546.80" y2="157.00" stroke="#ebb0bc" stroke-width="1.1"/>
<line x1="561.30" y1="109.00" x2="561.30" y2="134.90" stroke="#ebb0bc" stroke-width="1.1"/>
<line x1="575.80" y1="127.00" x2="575.80" y2="156.00" stroke="#ebb0bc" stroke-width="1.1"/>
<line x1="590.30" y1="134.00" x2="590.30" y2="160.00" stroke="#ebb0bc" stroke-width="1.1"/>
<line x1="604.80" y1="134.00" x2="604.80" y2="160.00" stroke="#ebb0bc" stroke-width="1.1"/>
<line x1="619.30" y1="160.00" x2="619.30" y2="180.90" stroke="#ebb0bc" stroke-width="1.1"/>
<line x1="633.80" y1="147.00" x2="633.80" y2="170.00" stroke="#ebb0bc" stroke-width="1.1"/>
<line x1="648.30" y1="157.00" x2="648.30" y2="175.90" stroke="#ebb0bc" stroke-width="1.1"/>
<line x1="662.80" y1="160.00" x2="662.80" y2="177.90" stroke="#ebb0bc" stroke-width="1.1"/>
<line x1="677.30" y1="164.00" x2="677.30" y2="186.00" stroke="#ebb0bc" stroke-width="1.1"/>
<rect x="500.60" y="75.30" width="5.4" height="5.4" fill="#cf4b52" stroke="#c5444b" stroke-width="0.7"/>
<rect x="515.10" y="102.80" width="5.4" height="5.4" fill="#cf4b52" stroke="#c5444b" stroke-width="0.7"/>
<rect x="529.60" y="118.20" width="5.4" height="5.4" fill="#cf4b52" stroke="#c5444b" stroke-width="0.7"/>
<rect x="544.10" y="132.20" width="5.4" height="5.4" fill="#cf4b52" stroke="#c5444b" stroke-width="0.7"/>
<rect x="558.60" y="144.20" width="5.4" height="5.4" fill="#cf4b52" stroke="#c5444b" stroke-width="0.7"/>
<rect x="573.10" y="152.80" width="5.4" height="5.4" fill="#cf4b52" stroke="#c5444b" stroke-width="0.7"/>
<rect x="587.60" y="160.20" width="5.4" height="5.4" fill="#cf4b52" stroke="#c5444b" stroke-width="0.7"/>
<rect x="602.10" y="170.20" width="5.4" height="5.4" fill="#cf4b52" stroke="#c5444b" stroke-width="0.7"/>
<rect x="616.60" y="167.80" width="5.4" height="5.4" fill="#cf4b52" stroke="#c5444b" stroke-width="0.7"/>
<rect x="631.10" y="177.20" width="5.4" height="5.4" fill="#cf4b52" stroke="#c5444b" stroke-width="0.7"/>
<rect x="645.60" y="181.00" width="5.4" height="5.4" fill="#cf4b52" stroke="#c5444b" stroke-width="0.7"/>
<rect x="660.10" y="184.20" width="5.4" height="5.4" fill="#cf4b52" stroke="#c5444b" stroke-width="0.7"/>
<rect x="674.60" y="184.80" width="5.4" height="5.4" fill="#cf4b52" stroke="#c5444b" stroke-width="0.7"/>
<circle cx="503.30" cy="80.50" r="2.75" fill="#3b63dc" stroke="#3158cf" stroke-width="0.7"/>
<circle cx="517.80" cy="98.60" r="2.75" fill="#3b63dc" stroke="#3158cf" stroke-width="0.7"/>
<circle cx="532.30" cy="114.90" r="2.75" fill="#3b63dc" stroke="#3158cf" stroke-width="0.7"/>
<circle cx="546.80" cy="118.50" r="2.75" fill="#3b63dc" stroke="#3158cf" stroke-width="0.7"/>
<circle cx="561.30" cy="123.90" r="2.75" fill="#3b63dc" stroke="#3158cf" stroke-width="0.7"/>
<circle cx="575.80" cy="129.90" r="2.75" fill="#3b63dc" stroke="#3158cf" stroke-width="0.7"/>
<circle cx="590.30" cy="134.90" r="2.75" fill="#3b63dc" stroke="#3158cf" stroke-width="0.7"/>
<circle cx="604.80" cy="135.50" r="2.75" fill="#3b63dc" stroke="#3158cf" stroke-width="0.7"/>
<circle cx="619.30" cy="142.90" r="2.75" fill="#3b63dc" stroke="#3158cf" stroke-width="0.7"/>
<circle cx="633.80" cy="142.90" r="2.75" fill="#3b63dc" stroke="#3158cf" stroke-width="0.7"/>
<circle cx="648.30" cy="144.00" r="2.75" fill="#3b63dc" stroke="#3158cf" stroke-width="0.7"/>
<circle cx="662.80" cy="148.80" r="2.75" fill="#3b63dc" stroke="#3158cf" stroke-width="0.7"/>
<circle cx="677.30" cy="148.80" r="2.75" fill="#3b63dc" stroke="#3158cf" stroke-width="0.7"/>
<circle cx="503.30" cy="78.00" r="2.75" fill="#8fc5ec" stroke="#5f9fd4" stroke-width="0.7"/>
<circle cx="517.80" cy="100.80" r="2.75" fill="#8fc5ec" stroke="#5f9fd4" stroke-width="0.7"/>
<circle cx="532.30" cy="100.40" r="2.75" fill="#8fc5ec" stroke="#5f9fd4" stroke-width="0.7"/>
<circle cx="546.80" cy="94.80" r="2.75" fill="#8fc5ec" stroke="#5f9fd4" stroke-width="0.7"/>
<circle cx="561.30" cy="114.90" r="2.75" fill="#8fc5ec" stroke="#5f9fd4" stroke-width="0.7"/>
<circle cx="575.80" cy="128.20" r="2.75" fill="#8fc5ec" stroke="#5f9fd4" stroke-width="0.7"/>
<circle cx="590.30" cy="129.90" r="2.75" fill="#8fc5ec" stroke="#5f9fd4" stroke-width="0.7"/>
<circle cx="604.80" cy="147.00" r="2.75" fill="#8fc5ec" stroke="#5f9fd4" stroke-width="0.7"/>
<circle cx="619.30" cy="150.90" r="2.75" fill="#8fc5ec" stroke="#5f9fd4" stroke-width="0.7"/>
<circle cx="633.80" cy="132.90" r="2.75" fill="#8fc5ec" stroke="#5f9fd4" stroke-width="0.7"/>
<circle cx="648.30" cy="143.90" r="2.75" fill="#8fc5ec" stroke="#5f9fd4" stroke-width="0.7"/>
<circle cx="662.80" cy="151.20" r="2.75" fill="#8fc5ec" stroke="#5f9fd4" stroke-width="0.7"/>
<circle cx="677.30" cy="155.30" r="2.75" fill="#8fc5ec" stroke="#5f9fd4" stroke-width="0.7"/>
<rect x="500.60" y="74.80" width="5.4" height="5.4" fill="#fde2e5" stroke="#efaab6" stroke-width="0.7"/>
<rect x="515.10" y="74.60" width="5.4" height="5.4" fill="#fde2e5" stroke="#efaab6" stroke-width="0.7"/>
<rect x="529.60" y="86.60" width="5.4" height="5.4" fill="#fde2e5" stroke="#efaab6" stroke-width="0.7"/>
<rect x="544.10" y="140.10" width="5.4" height="5.4" fill="#fde2e5" stroke="#efaab6" stroke-width="0.7"/>
<rect x="558.60" y="119.20" width="5.4" height="5.4" fill="#fde2e5" stroke="#efaab6" stroke-width="0.7"/>
<rect x="573.10" y="139.10" width="5.4" height="5.4" fill="#fde2e5" stroke="#efaab6" stroke-width="0.7"/>
<rect x="587.60" y="144.20" width="5.4" height="5.4" fill="#fde2e5" stroke="#efaab6" stroke-width="0.7"/>
<rect x="602.10" y="144.20" width="5.4" height="5.4" fill="#fde2e5" stroke="#efaab6" stroke-width="0.7"/>
<rect x="616.60" y="167.80" width="5.4" height="5.4" fill="#fde2e5" stroke="#efaab6" stroke-width="0.7"/>
<rect x="631.10" y="155.90" width="5.4" height="5.4" fill="#fde2e5" stroke="#efaab6" stroke-width="0.7"/>
<rect x="645.60" y="163.80" width="5.4" height="5.4" fill="#fde2e5" stroke="#efaab6" stroke-width="0.7"/>
<rect x="660.10" y="166.20" width="5.4" height="5.4" fill="#fde2e5" stroke="#efaab6" stroke-width="0.7"/>
<rect x="674.60" y="172.20" width="5.4" height="5.4" fill="#fde2e5" stroke="#efaab6" stroke-width="0.7"/>
</g>
<rect x="495.67" y="17.45" width="188.83" height="211.22" fill="none" stroke="#505050" stroke-width="1.0"/>
<rect x="557.20" y="20.3" width="124.2" height="38.3" rx="2" fill="#fff" fill-opacity="0.8" stroke="#dadada" stroke-width="0.8"/>
<text x="625.95" y="31.1" text-anchor="middle" font-size="12.2" font-family="Liberation Sans" fill="#000">Exp.</text>
<text x="651.55" y="31.1" text-anchor="middle" font-size="12.2" font-family="Liberation Sans" fill="#000">Sim.</text>
<text x="672.05" y="31.1" text-anchor="middle" font-size="12.2" font-family="Liberation Sans" fill="#000">Fit</text>
<text x="588.00" y="42.7" text-anchor="middle" font-size="12.2" font-family="Liberation Sans" fill="#000">Stabilized</text>
<text x="587.40" y="54.4" text-anchor="middle" font-size="12.2" font-family="Liberation Sans" fill="#000">Open-loop</text>
<line x1="624.90" y1="34.40" x2="624.90" y2="44.30" stroke="#6a8db3" stroke-width="1.1"/>
<circle cx="624.90" cy="39.10" r="2.5" fill="#8fc5ec" stroke="#5f9fd4" stroke-width="0.7"/>
<line x1="647.90" y1="34.40" x2="647.90" y2="44.30" stroke="#3158cf" stroke-width="1.1"/>
<circle cx="647.90" cy="39.10" r="2.5" fill="#3b63dc" stroke="#3158cf" stroke-width="0.7"/>
<line x1="666.70" y1="39.4" x2="679.60" y2="39.4" stroke="#8799ae" stroke-width="1.4"/>
<line x1="624.90" y1="45.80" x2="624.90" y2="55.60" stroke="#ebb0bc" stroke-width="1.1"/>
<rect x="622.45" y="48.35" width="4.9" height="4.9" fill="#fde2e5" stroke="#efaab6" stroke-width="0.7"/>
<line x1="647.90" y1="45.80" x2="647.90" y2="55.60" stroke="#c5444b" stroke-width="1.1"/>
<rect x="645.45" y="48.35" width="4.9" height="4.9" fill="#cf4b52" stroke="#c5444b" stroke-width="0.7"/>
<line x1="666.70" y1="50.7" x2="679.60" y2="50.7" stroke="#cfb3bd" stroke-width="1.4"/>
<text x="634.30" y="88.70" text-anchor="middle" fill="#8a9bb6" font-size="12.2" font-family="Liberation Sans"><tspan font-style="italic">p</tspan><tspan font-style="italic" font-size="8.2" dy="2.3">i</tspan><tspan dy="-2.3" dx="1.3"> =0.37(7)</tspan></text>
<text x="561.00" y="185.60" text-anchor="middle" fill="#d9a1b7" font-size="12.2" font-family="Liberation Sans"><tspan font-style="italic">p</tspan><tspan font-style="italic" font-size="8.2" dy="2.3">i</tspan><tspan dy="-2.3">=0.47(5)</tspan></text>
<text x="634.30" y="103.20" text-anchor="middle" fill="#8a9bb6" font-size="12.2" font-family="Liberation Sans"><tspan font-style="italic">T</tspan><tspan font-size="8.2" dy="2.3">1,L</tspan><tspan dy="-2.3">=31(13) ms</tspan></text>
<text x="561.00" y="200.40" text-anchor="middle" fill="#d9a1b7" font-size="12.2" font-family="Liberation Sans"><tspan font-style="italic">T</tspan><tspan font-size="8.2" dy="2.3">1,L</tspan><tspan dy="-2.3">=24(6) ms</tspan></text>
<text x="634.30" y="118.60" text-anchor="middle" fill="#8a9bb6" font-size="12.2" font-family="Liberation Sans"><tspan font-style="italic">p</tspan><tspan font-style="italic" font-size="8.2" dy="2.3">f</tspan><tspan dy="-2.3">=0.25(6)</tspan></text>
<text x="561.00" y="215.90" text-anchor="middle" fill="#d9a1b7" font-size="12.2" font-family="Liberation Sans"><tspan font-style="italic">p</tspan><tspan font-style="italic" font-size="8.2" dy="2.3">f</tspan><tspan dy="-2.3">=0.18(4)</tspan></text>
<text x="138.35" y="13.4" text-anchor="middle" font-size="14.2" font-family="Liberation Sans" fill="#000" stroke="#000" stroke-width="0.2" textLength="45.0" lengthAdjust="spacingAndGlyphs">|0<tspan font-family="DejaVu Sans" font-size="13.6">⟩</tspan><tspan font-size="9.6" dy="2.6">L</tspan><tspan dy="-2.6">​</tspan>|<tspan font-style="italic">e</tspan><tspan font-family="DejaVu Sans" font-size="13.6">⟩</tspan><tspan font-size="9.6" dy="2.6">p</tspan><tspan dy="-2.6">​</tspan></text>
<text x="362.30" y="13.4" text-anchor="middle" font-size="14.2" font-family="Liberation Sans" fill="#000" stroke="#000" stroke-width="0.2" textLength="41.4" lengthAdjust="spacingAndGlyphs">|1<tspan font-family="DejaVu Sans" font-size="13.6">⟩</tspan><tspan font-size="9.6" dy="2.6">L</tspan><tspan dy="-2.6">​</tspan>|<tspan font-style="italic">l</tspan><tspan font-family="DejaVu Sans" font-size="13.6">⟩</tspan><tspan font-size="9.6" dy="2.6">p</tspan><tspan dy="-2.6">​</tspan></text>
<text x="589.85" y="13.4" text-anchor="middle" font-size="14.2" font-family="Liberation Sans" fill="#000" stroke="#000" stroke-width="0.2" textLength="95.65" lengthAdjust="spacingAndGlyphs">|0<tspan font-family="DejaVu Sans" font-size="13.6">⟩</tspan><tspan font-size="9.6" dy="2.6">L</tspan><tspan dy="-2.6">​</tspan>|<tspan font-style="italic">e</tspan><tspan font-family="DejaVu Sans" font-size="13.6">⟩</tspan><tspan font-size="9.6" dy="2.6">p</tspan><tspan dy="-2.6">​</tspan>+|1<tspan font-family="DejaVu Sans" font-size="13.6">⟩</tspan><tspan font-size="9.6" dy="2.6">L</tspan><tspan dy="-2.6">​</tspan>|<tspan font-style="italic">l</tspan><tspan font-family="DejaVu Sans" font-size="13.6">⟩</tspan><tspan font-size="9.6" dy="2.6">p</tspan><tspan dy="-2.6">​</tspan></text>
<text transform="translate(10.6,122.9) rotate(-90)" text-anchor="middle" font-size="13.6" fill="#000">Population</text></svg>
</body></html>
